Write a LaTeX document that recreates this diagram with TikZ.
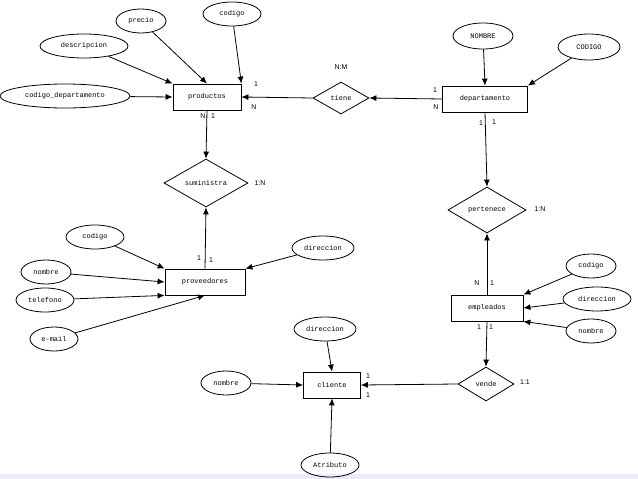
\documentclass[tikz,border=0pt]{standalone}
\usepackage{fontspec}
\setmonofont{Liberation Mono}
\setsansfont{Liberation Sans}
\usetikzlibrary{shapes.geometric,arrows.meta}
\begin{document}
\begin{tikzpicture}[x=1pt,y=-1pt,
  attr/.style={draw,thick,ellipse,inner sep=0pt,font=\ttfamily\fontsize{7}{8}\selectfont},
  ent/.style={draw,thick,rectangle,inner sep=0pt,font=\ttfamily\fontsize{7}{8}\selectfont},
  rel/.style={draw,thick,diamond,aspect=1.7,inner sep=0pt,font=\ttfamily\fontsize{7}{8}\selectfont},
  lbl/.style={font=\sffamily\fontsize{7}{8}\selectfont,inner sep=0pt},
  arr/.style={thick,-{Latex[length=7pt,width=6pt]}}]
\useasboundingbox (0,0) rectangle (638,479);
\fill[blue!8] (0,474) rectangle (638,479);
% entities
\node[ent,minimum width=68pt,minimum height=26pt] (prod) at (207,97) {productos};
\node[ent,minimum width=85pt,minimum height=26pt] (dep) at (485,99) {departamento};
\node[ent,minimum width=80pt,minimum height=26pt] (prov) at (205,282) {proveedores};
\node[ent,minimum width=72pt,minimum height=26pt] (emp) at (487,308) {empleados};
\node[ent,minimum width=57pt,minimum height=26pt] (cli) at (332,385) {cliente};
% relations
\node[rel,minimum width=56pt,minimum height=32pt] (tiene) at (341,98) {tiene};
\node[rel,minimum width=84pt,minimum height=48pt] (sum) at (206,183) {suministra};
\node[rel,minimum width=78pt,minimum height=46pt] (per) at (487,210) {pertenece};
\node[rel,minimum width=56pt,minimum height=34pt] (ven) at (486,384) {vende};
% attributes
\node[attr,minimum width=130pt,minimum height=24pt] (a1) at (65,96) {codigo\_departamento};
\node[attr,minimum width=88pt,minimum height=24pt] (a2) at (84,46) {descripcion};
\node[attr,minimum width=50pt,minimum height=24pt] (a3) at (141,21) {precio};
\node[attr,minimum width=58pt,minimum height=24pt] (a4) at (232,14) {codigo};
\node[attr,minimum width=60pt,minimum height=26pt] (a5) at (483,36) {NOMBRE};
\node[attr,minimum width=62pt,minimum height=26pt] (a6) at (589,47) {CODIGO};
\node[attr,minimum width=58pt,minimum height=24pt] (a7) at (95,237) {codigo};
\node[attr,minimum width=50pt,minimum height=24pt] (a8) at (46,272) {nombre};
\node[attr,minimum width=58pt,minimum height=24pt] (a9) at (45,300) {telefono};
\node[attr,minimum width=48pt,minimum height=24pt] (a10) at (54,339) {e-mail};
\node[attr,minimum width=62pt,minimum height=24pt] (a11) at (323,248) {direccion};
\node[attr,minimum width=50pt,minimum height=24pt] (a12) at (591,266) {codigo};
\node[attr,minimum width=68pt,minimum height=24pt] (a13) at (597,299) {direccion};
\node[attr,minimum width=50pt,minimum height=24pt] (a14) at (591,331) {nombre};
\node[attr,minimum width=62pt,minimum height=24pt] (a15) at (325,329) {direccion};
\node[attr,minimum width=50pt,minimum height=24pt] (a16) at (226,383) {nombre};
\node[attr,minimum width=58pt,minimum height=24pt] (a17) at (330,465) {Atributo};
% attribute arrows
\draw[arr] (a1) -- (prod.west);
\draw[arr] (a2) -- (prod.north west);
\draw[arr] (a3) -- (prod.north);
\draw[arr] (a4) -- (prod.north east);
\draw[arr] (a5) -- (dep.north);
\draw[arr] (a6) -- (dep.north east);
\draw[arr] (a7) -- (prov.north west);
\draw[arr] (a8) -- (prov.west);
\draw[arr] (a9) -- (prov.south west);
\draw[arr] (a10) -- (prov.south);
\draw[arr] (a11) -- (prov.north east);
\draw[arr] (a12) -- (emp.north east);
\draw[arr] (a13) -- (emp.east);
\draw[arr] (a14) -- (emp.south east);
\draw[arr] (a15) -- (cli.north);
\draw[arr] (a16) -- (cli.west);
\draw[arr] (a17) -- (cli.south);
% relation arrows
\draw[arr] (dep.west) -- (tiene.east);
\draw[arr] (tiene.west) -- (prod.east);
\draw[arr] (prod.south) -- (sum.north);
\draw[arr] (prov.north) -- (sum.south);
\draw[arr] (dep.south) -- (per.north);
\draw[arr] (emp.north) -- (per.south);
\draw[arr] (emp.south) -- (ven.north);
\draw[arr] (ven.west) -- (cli.east);
% labels
\node[lbl] (l1) at (341,67) {N:M};
\node[lbl] (l2) at (260,183) {1:N};
\node[lbl] (l3) at (540,209) {1:N};
\node[lbl] (l4) at (525,382) {1:1};
\node[lbl] (l5) at (256,84) {1};
\node[lbl] (l6) at (254,107) {N};
\node[lbl] (l7) at (203,116) {N};
\node[lbl] (l8) at (213,116) {1};
\node[lbl] (l9) at (435,90) {1};
\node[lbl] (l10) at (436,107) {N};
\node[lbl] (l11) at (481,123) {1};
\node[lbl] (l12) at (494,122) {1};
\node[lbl] (l13) at (199,258) {1};
\node[lbl] (l14) at (211,260) {1};
\node[lbl] (l15) at (477,283) {N};
\node[lbl] (l16) at (492,283) {1};
\node[lbl] (l17) at (479,327) {1};
\node[lbl] (l18) at (491,327) {1};
\node[lbl] (l19) at (368,376) {1};
\node[lbl] (l20) at (368,395) {1};
\end{tikzpicture}
\end{document}
